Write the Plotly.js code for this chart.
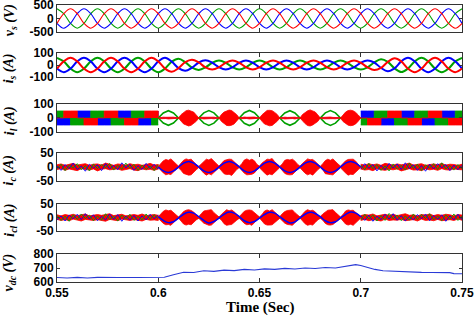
<!DOCTYPE html>
<html><head><meta charset="utf-8">
<script src="https://cdn.plot.ly/plotly-3.0.1.min.js"></script>
<style>html,body{margin:0;padding:0;background:#fff}#chart{width:474px;height:322px}</style>
</head><body><div id="chart"></div>
<script>
// ---------- time grids (s) ----------
const tg = [0.55,0.55333,0.55667,0.56,0.56333,0.56667,0.57,0.57333,0.57667,0.58,0.58333,0.58667,0.59,0.59333,0.59667,0.6,
0.60333,0.60667,0.61,0.61333,0.61667,0.62,0.62333,0.62667,0.63,0.63333,0.63667,0.64,0.64333,0.64667,0.65,
0.65333,0.65667,0.66,0.66333,0.66667,0.67,0.67333,0.67667,0.68,0.68333,0.68667,0.69,0.69333,0.69667,0.7,
0.70333,0.70667,0.71,0.71333,0.71667,0.72,0.72333,0.72667,0.73,0.73333,0.73667,0.74,0.74333,0.74667,0.75];
const t25 = [0.6,0.6025,0.605,0.6075,0.61,0.6125,0.615,0.6175,0.62,0.6225,0.625,0.6275,0.63,0.6325,0.635,0.6375,0.64,0.6425,0.645,0.6475,0.65,0.6525,0.655,0.6575,0.66,0.6625,0.665,0.6675,0.67,0.6725,0.675,0.6775,0.68,0.6825,0.685,0.6875,0.69,0.6925,0.695,0.6975,0.7];
const tf = [0.6,0.60125,0.6025,0.60375,0.605,0.60625,0.6075,0.60875,0.61,0.61125,0.6125,0.61375,0.615,0.61625,0.6175,0.61875,0.62,0.62125,0.6225,0.62375,0.625,0.62625,0.6275,0.62875,0.63,0.63125,0.6325,0.63375,0.635,0.63625,0.6375,0.63875,0.64,0.64125,0.6425,0.64375,0.645,0.64625,0.6475,0.64875,0.65,0.65125,0.6525,0.65375,0.655,0.65625,0.6575,0.65875,0.66,0.66125,0.6625,0.66375,0.665,0.66625,0.6675,0.66875,0.67,0.67125,0.6725,0.67375,0.675,0.67625,0.6775,0.67875,0.68,0.68125,0.6825,0.68375,0.685,0.68625,0.6875,0.68875,0.69,0.69125,0.6925,0.69375,0.695,0.69625,0.6975,0.69875,0.7];
const t2pre = [0.55,0.552,0.554,0.556,0.558,0.56,0.562,0.564,0.566,0.568,0.57,0.572,0.574,0.576,0.578,0.58,0.582,0.584,0.586,0.588,0.59,0.592,0.594,0.596,0.598,0.6];
const t2post = [0.7,0.702,0.704,0.706,0.708,0.71,0.712,0.714,0.716,0.718,0.72,0.722,0.724,0.726,0.728,0.73,0.732,0.734,0.736,0.738,0.74,0.742,0.744,0.746,0.748,0.75];

// ---------- v_s (V) ----------
const vsR = [-180,180,360,180,-180,-360,-180,180,360,180,-180,-360,-180,180,360,180,-180,-360,-180,180,360,180,-180,-360,-180,180,360,180,-180,-360,-180,180,360,180,-180,-360,-180,180,360,180,-180,-360,-180,180,360,180,-180,-360,-180,180,360,180,-180,-360,-180,180,360,180,-180,-360,-180];
const vsB = [-180,-360,-180,180,360,180,-180,-360,-180,180,360,180,-180,-360,-180,180,360,180,-180,-360,-180,180,360,180,-180,-360,-180,180,360,180,-180,-360,-180,180,360,180,-180,-360,-180,180,360,180,-180,-360,-180,180,360,180,-180,-360,-180,180,360,180,-180,-360,-180,180,360,180,-180];
const vsG = [360,180,-180,-360,-180,180,360,180,-180,-360,-180,180,360,180,-180,-360,-180,180,360,180,-180,-360,-180,180,360,180,-180,-360,-180,180,360,180,-180,-360,-180,180,360,180,-180,-360,-180,180,360,180,-180,-360,-180,180,360,180,-180,-360,-180,180,360,180,-180,-360,-180,180,360];

// ---------- i_s (A) ----------
const isR = [-30,30,60,30,-30,-60,-30,30,60,30,-30,-60,-30,30,60,30,-30,
-56,-26,24,44,21,-20,-38,-19,19,38,19,-19,-38,-19,19,
38,19,-19,-38,-19,19,38,19,-19,-38,-19,19,38,19,-19,
-42,-24,26,56,30,-30,-60,-30,30,60,30,-30,-60,-30];
const isB = [-30,-60,-30,30,60,30,-30,-60,-30,30,60,30,-30,-60,-30,30,60,
28,-26,-48,-22,21,39,19,-19,-38,-19,19,38,19,-19,-38,
-19,19,38,19,-19,-38,-19,19,38,19,-19,-38,-19,19,38,
21,-24,-52,-28,30,60,30,-30,-60,-30,30,60,30,-30];
const isG = [60,30,-30,-60,-30,30,60,30,-30,-60,-30,30,60,30,-30,-60,-30,
28,52,24,-22,-41,-20,19,38,19,-19,-38,-19,19,38,19,
-19,-38,-19,19,38,19,-19,-38,-19,19,38,19,-19,-38,-19,
21,47,26,-28,-59,-30,30,60,30,-30,-60,-30,30,60];

// ---------- i_l (A) ----------
const ilR_pre = [0,50,50,0,-50,-50,0,50,50,0,-50,-50,0,50,50,0];
const ilB_pre = [-50,-50,0,50,50,0,-50,-50,0,50,50,0,-50,-50,0,50];
const ilG_pre = [50,0,-50,-50,0,50,50,0,-50,-50,0,50,50,0,-50,-50];
const ilR_post = [0,-50,-50,0,50,50,0,-50,-50,0,50,50,0,-50,-50,0];
const ilB_post = [50,50,0,-50,-50,0,50,50,0,-50,-50,0,50,50,0,-50];
const ilG_post = [-50,0,50,50,0,-50,-50,0,50,50,0,-50,-50,0,50,50];
const ilRhi_mid = [0,4,6,5,7,4,6,3, 0,24,40,52,56,50,42,22, 0,5,6,4,7,5,6,3, 0,26,42,50,57,53,38,24, 0,4,7,5,6,4,7,3,
0,23,41,54,55,52,40,25, 0,5,6,4,7,5,6,4, 0,25,39,51,58,50,43,23, 0,4,6,5,7,4,6,3, 0,24,42,53,56,51,40,22, 0];
const ilRlo_mid = [0,-5,-6,-4,-7,-5,-6,-3, 0,-22,-42,-50,-57,-52,-40,-24, 0,-4,-7,-5,-6,-4,-6,-4, 0,-25,-39,-53,-55,-51,-42,-22, 0,-5,-6,-4,-7,-5,-6,-3,
0,-24,-43,-51,-56,-53,-38,-23, 0,-4,-7,-5,-6,-4,-7,-3, 0,-23,-40,-54,-57,-50,-41,-25, 0,-5,-6,-4,-7,-5,-6,-4, 0,-25,-41,-51,-55,-52,-42,-23, 0];
const ilGhi_mid = [0,36,52,36,0,0,0,0,0,37,53,37,0,0,0,0,0,38,54,38,0,0,0,0,0,36,52,36,0,0,0,0,0,37,53,37,0,0,0,0,0];
const ilGlo_mid = [0,-36,-52,-36,0,0,0,0,0,-37,-53,-37,0,0,0,0,0,-38,-54,-38,0,0,0,0,0,-36,-52,-36,0,0,0,0,0,-37,-53,-37,0,0,0,0,0];
const ilB_midT = [0.6,0.7];
const ilB_mid = [0,0];

// ---------- i_c (A) ----------
const icRhi_pre = [8,11,6,10,13,7,9,12,6,10,11,7,14,9,6,11,10,7,12,8,10,6,9,13,7,9];
const icRlo_pre = [-9,-6,-12,-7,-10,-13,-6,-9,-11,-7,-14,-8,-6,-10,-9,-7,-12,-9,-6,-11,-13,-7,-10,-8,-12,-7];
const icB_pre = [4,-12,9,-6,14,-9,3,-15,10,-4,8,-13,12,-7,6,-10,15,-3,9,-12,5,-9,13,-6,10,-8];
const icG_pre = [-6,10,-13,7,-4,12,-10,5,-14,11,-6,9,-3,13,-11,6,-8,14,-5,10,-12,7,-9,4,-13,8];
const icRhi_post = [10,7,12,8,11,6,13,9,7,11,8,10,14,7,10,12,6,9,11,8,13,7,10,9,6,10];
const icRlo_post = [-7,-11,-9,-13,-6,-10,-12,-8,-10,-7,-14,-9,-6,-11,-10,-13,-7,-10,-8,-12,-6,-10,-11,-7,-9,-10];
const icB_post = [-8,12,-5,9,-14,6,-10,13,-4,11,-9,15,-6,8,-12,5,-15,10,-7,12,-3,9,-13,7,-10,6];
const icG_post = [7,-10,13,-6,9,-12,4,-14,11,-8,6,-11,14,-5,10,-13,8,-4,12,-9,15,-7,5,-11,9,-6];
const icRhi_mid = [2,12,22,27,24,29,20,10, 3,14,24,29,26,28,18,9, 2,11,21,28,25,30,21,11, 3,13,23,26,28,27,19,10, 2,12,25,29,24,28,22,9,
3,14,22,28,27,30,19,11, 2,11,24,27,25,28,21,10, 3,13,21,29,26,27,20,9, 2,12,23,28,24,29,18,11, 3,14,22,27,27,28,21,10, 2];
const icRlo_mid = [-2,-10,-21,-28,-25,-27,-19,-9, -3,-12,-23,-26,-29,-28,-21,-10, -2,-11,-22,-29,-24,-28,-20,-11, -3,-13,-24,-27,-26,-30,-18,-9, -2,-10,-22,-28,-27,-26,-21,-10,
-3,-12,-21,-29,-25,-28,-19,-11, -2,-11,-23,-27,-28,-27,-20,-9, -3,-13,-22,-28,-24,-29,-21,-10, -2,-10,-24,-26,-27,-28,-19,-11, -3,-12,-21,-29,-26,-27,-20,-10, -2];
const icB_mid = [0,-14,-20,-14,0,14,20,14,0,-14,-20,-14,0,14,20,14,0,-14,-20,-14,0,14,20,14,0,-14,-20,-14,0,14,20,14,0,-14,-20,-14,0,14,20,14,0];
const icG_mid = [0,6,8,6,0,-6,-8,-6,0,6,8,6,0,-6,-8,-6,0,6,8,6,0,-6,-8,-6,0,6,8,6,0,-6,-8,-6,0,6,8,6,0,-6,-8,-6,0];

// ---------- i_cl (A) ----------
const iclRhi_pre = [10,6,11,8,12,7,10,13,6,9,11,8,10,14,7,10,12,6,9,11,8,13,7,10,11,8];
const iclRlo_pre = [-7,-11,-8,-12,-6,-10,-13,-7,-9,-11,-8,-10,-14,-7,-10,-12,-6,-9,-11,-8,-10,-13,-7,-10,-9,-11];
const iclB_pre = [-10,6,-13,9,-5,12,-8,14,-6,10,-12,4,-9,13,-7,11,-14,5,-10,8,-13,6,-9,12,-5,9];
const iclG_pre = [8,-11,5,-14,10,-7,13,-4,9,-12,6,-10,14,-8,5,-13,9,-6,12,-11,4,-9,13,-7,10,-5];
const iclRhi_post = [7,11,9,13,6,10,12,8,12,7,10,14,8,10,6,11,9,13,7,11,8,12,10,6,11,9];
const iclRlo_post = [-11,-7,-12,-8,-10,-13,-6,-11,-9,-10,-7,-12,-10,-8,-13,-6,-11,-9,-12,-7,-12,-10,-8,-11,-6,-10];
const iclB_post = [6,-11,9,-14,5,-8,12,-6,14,-10,7,-13,4,-9,11,-5,13,-12,8,-7,10,-14,6,-9,12,-8];
const iclG_post = [-9,12,-6,10,-13,7,-11,15,-5,9,-12,6,-10,13,-8,11,-4,14,-9,6,-12,10,-7,13,-11,5];
const iclRhi_mid = [3,13,23,28,25,27,19,9, 2,11,22,27,29,26,20,10, 3,14,24,26,27,29,18,9, 2,12,21,29,25,28,21,11, 3,13,23,27,28,26,19,10,
2,11,24,28,24,29,20,9, 3,14,22,26,27,28,18,11, 2,12,23,29,25,27,21,10, 3,13,21,27,28,29,19,9, 2,11,24,28,26,27,20,11, 3];
const iclRlo_mid = [-3,-11,-22,-27,-26,-29,-20,-10, -2,-13,-24,-28,-25,-27,-18,-9, -3,-12,-21,-26,-29,-28,-21,-11, -2,-10,-23,-29,-27,-26,-19,-10, -3,-13,-22,-27,-25,-29,-20,-9,
-2,-11,-24,-28,-28,-27,-18,-11, -3,-12,-21,-26,-27,-29,-21,-10, -2,-13,-23,-29,-26,-28,-19,-9, -3,-10,-22,-27,-28,-26,-20,-11, -2,-12,-24,-28,-25,-29,-21,-10, -2];
const iclB_mid = [3,-11,-19,-16,-2,12,19,16,3,-11,-20,-15,-2,12,20,16,3,-12,-19,-15,-2,11,19,16,3,-11,-20,-16,-2,12,19,15,3,-12,-19,-16,-2,11,20,16,3];
const iclG_mid = [-2,5,8,6,1,-5,-8,-6,-2,5,8,6,1,-5,-8,-6,-2,5,8,6,1,-5,-8,-6,-2,5,8,6,1,-5,-8,-6,-2,5,8,6,1,-5,-8,-6,-2];

// ---------- v_dc (V) ----------
const dcT = [0.55,0.555,0.56,0.565,0.57,0.575,0.58,0.59,0.6,0.603,0.6075,0.6125,0.6175,0.6225,0.6275,0.6325,0.6375,0.6425,0.6475,
0.6525,0.6575,0.6625,0.6675,0.6725,0.6775,0.6825,0.6875,0.6925,0.6975,0.7,0.7035,0.707,0.711,0.716,0.72,0.725,0.73,0.735,0.74,0.744,0.746,0.75];
const dcV = [632,629,633,629,633,630,632,632,632,634,652,670,668,680,676,685,681,690,686,
694,690,697,693,700,696,704,700,712,724,718,702,690,680,676,673,670,669,668,668,667,660,659];

// ---------- axes labels ----------
const xTicks = [0.55,0.6,0.65,0.7,0.75];
const xTickText = ['0.55','0.6','0.65','0.7','0.75'];
const panels = [
  {range:[-500,500], tv:[-500,0,500], tt:['-500','0','500'], title:'<i>v</i><sub><i>s</i></sub><i> (V)</i>', dom:[0.8993,0.9964], ty:0.943},
  {range:[-100,100], tv:[-100,0,100], tt:['-100','0','100'], title:'<i>i</i><sub><i>s</i></sub><i> (A)</i>', dom:[0.7374,0.8237], ty:0.770},
  {range:[-100,100], tv:[-100,0,100], tt:['-100','0','100'], title:'<i>i</i><sub><i>l</i></sub><i> (A)</i>', dom:[0.5396,0.6403], ty:0.580},
  {range:[-50,50], tv:[-50,0,50], tt:['-50','0','50'], title:'<i>i</i><sub><i>c</i></sub><i> (A)</i>', dom:[0.3633,0.4640], ty:0.403},
  {range:[-50,50], tv:[-50,0,50], tt:['-50','0','50'], title:'<i>i</i><sub><i>cl</i></sub><i> (A)</i>', dom:[0.1835,0.2806], ty:0.222},
  {range:[600,800], tv:[600,700,800], tt:['600','700','800'], title:'<i>v</i><sub><i>dc</i></sub><i> (V)</i>', dom:[0,0.1007], ty:0.036}
];

const RED='#ff0000', BLUE='#0000ff', GREEN='#00a000', DCBLUE='#2a3ad6';
const traces=[];
function ax(i){return i===1?'':String(i);}
function ln(x,y,c,i,w,shape){
  traces.push({type:'scatter',mode:'lines',x:x,y:y,xaxis:'x'+ax(i),yaxis:'y'+ax(i),
    line:{color:c,width:w,shape:shape||'linear'},hoverinfo:'skip',showlegend:false});
}
function band(x,hi,lo,c,i){
  traces.push({type:'scatter',mode:'lines',x:x.concat(x.slice().reverse()),y:hi.concat(lo.slice().reverse()),
    xaxis:'x'+ax(i),yaxis:'y'+ax(i),fill:'toself',fillcolor:c,line:{color:c,width:0.8},hoverinfo:'skip',showlegend:false});
}
function step(x,y,c,i){
  traces.push({type:'scatter',mode:'lines',x:x,y:y,xaxis:'x'+ax(i),yaxis:'y'+ax(i),fill:'tozeroy',fillcolor:c,
    line:{color:c,width:0.8,shape:'hv'},hoverinfo:'skip',showlegend:false});
}
// panel 1
ln(tg,vsG,GREEN,1,1.1,'spline'); ln(tg,vsB,BLUE,1,1.1,'spline'); ln(tg,vsR,RED,1,1.1,'spline');
// panel 2
ln(tg,isG,GREEN,2,2,'spline'); ln(tg,isB,BLUE,2,2,'spline'); ln(tg,isR,RED,2,2,'spline');
// panel 3
const tA = tg.slice(0,16), tB = tg.slice(45,61);
step(tA,ilB_pre,BLUE,3); step(tA,ilG_pre,GREEN,3); step(tA,ilR_pre,RED,3);
step(tB,ilB_post,BLUE,3); step(tB,ilG_post,GREEN,3); step(tB,ilR_post,RED,3);
ln(ilB_midT,ilB_mid,BLUE,3,1.2);
ln(t25,ilGhi_mid,GREEN,3,1.6); ln(t25,ilGlo_mid,GREEN,3,1.6);
band(tf,ilRhi_mid,ilRlo_mid,RED,3);
// panel 4
band(t2pre,icRhi_pre,icRlo_pre,RED,4); ln(t2pre,icB_pre,BLUE,4,0.9); ln(t2pre,icG_pre,GREEN,4,0.9);
band(t2post,icRhi_post,icRlo_post,RED,4); ln(t2post,icB_post,BLUE,4,0.9); ln(t2post,icG_post,GREEN,4,0.9);
ln(t25,icG_mid,GREEN,4,1.2,'spline'); band(tf,icRhi_mid,icRlo_mid,RED,4); ln(t25,icB_mid,BLUE,4,1.5,'spline');
// panel 5
band(t2pre,iclRhi_pre,iclRlo_pre,RED,5); ln(t2pre,iclB_pre,BLUE,5,0.9); ln(t2pre,iclG_pre,GREEN,5,0.9);
band(t2post,iclRhi_post,iclRlo_post,RED,5); ln(t2post,iclB_post,BLUE,5,0.9); ln(t2post,iclG_post,GREEN,5,0.9);
ln(t25,iclG_mid,GREEN,5,1.2,'spline'); band(tf,iclRhi_mid,iclRlo_mid,RED,5); ln(t25,iclB_mid,BLUE,5,1.5,'spline');
// panel 6
ln(dcT,dcV,DCBLUE,6,1.1);

const FRAME='#333333';
const tickFont={family:'Liberation Sans, Arial, sans-serif',size:12,color:'#000',weight:700};
const layout={width:474,height:322,margin:{l:57,r:12,t:4,b:40},paper_bgcolor:'#fff',plot_bgcolor:'#fff',
  showlegend:false,annotations:[]};
panels.forEach((p,k)=>{
  const i=k+1;
  layout['xaxis'+ax(i)]={domain:[0,1],anchor:'y'+ax(i),range:[0.55,0.75],tickmode:'array',tickvals:xTicks,ticktext:xTickText,
    showticklabels:i===6,ticks:'inside',ticklen:4,tickcolor:FRAME,showline:true,mirror:'ticks',linecolor:FRAME,linewidth:1,
    showgrid:false,zeroline:false,tickfont:tickFont,ticklabeloverflow:'allow',fixedrange:true};
  layout['yaxis'+ax(i)]={domain:p.dom,anchor:'x'+ax(i),range:p.range,tickmode:'array',tickvals:p.tv,ticktext:p.tt,
    ticks:'inside',ticklen:3,tickcolor:FRAME,showline:true,mirror:'ticks',linecolor:FRAME,linewidth:1,
    showgrid:false,zeroline:false,tickfont:tickFont,ticklabeloverflow:'allow',fixedrange:true};
  layout.annotations.push({xref:'paper',yref:'paper',x:-0.115,y:p.ty,xanchor:'center',yanchor:'middle',textangle:-90,
    showarrow:false,text:p.title,font:{family:'Liberation Serif, Times New Roman, serif',size:14,color:'#000',weight:700}});
});
layout.annotations.push({xref:'paper',yref:'paper',x:0.5,y:-0.09,xanchor:'center',yanchor:'middle',showarrow:false,
  text:'<b>Time (Sec)</b>',font:{family:'Liberation Serif, Times New Roman, serif',size:15,color:'#000'}});
Plotly.newPlot('chart',traces,layout,{staticPlot:true,displayModeBar:false});
</script></body></html>
